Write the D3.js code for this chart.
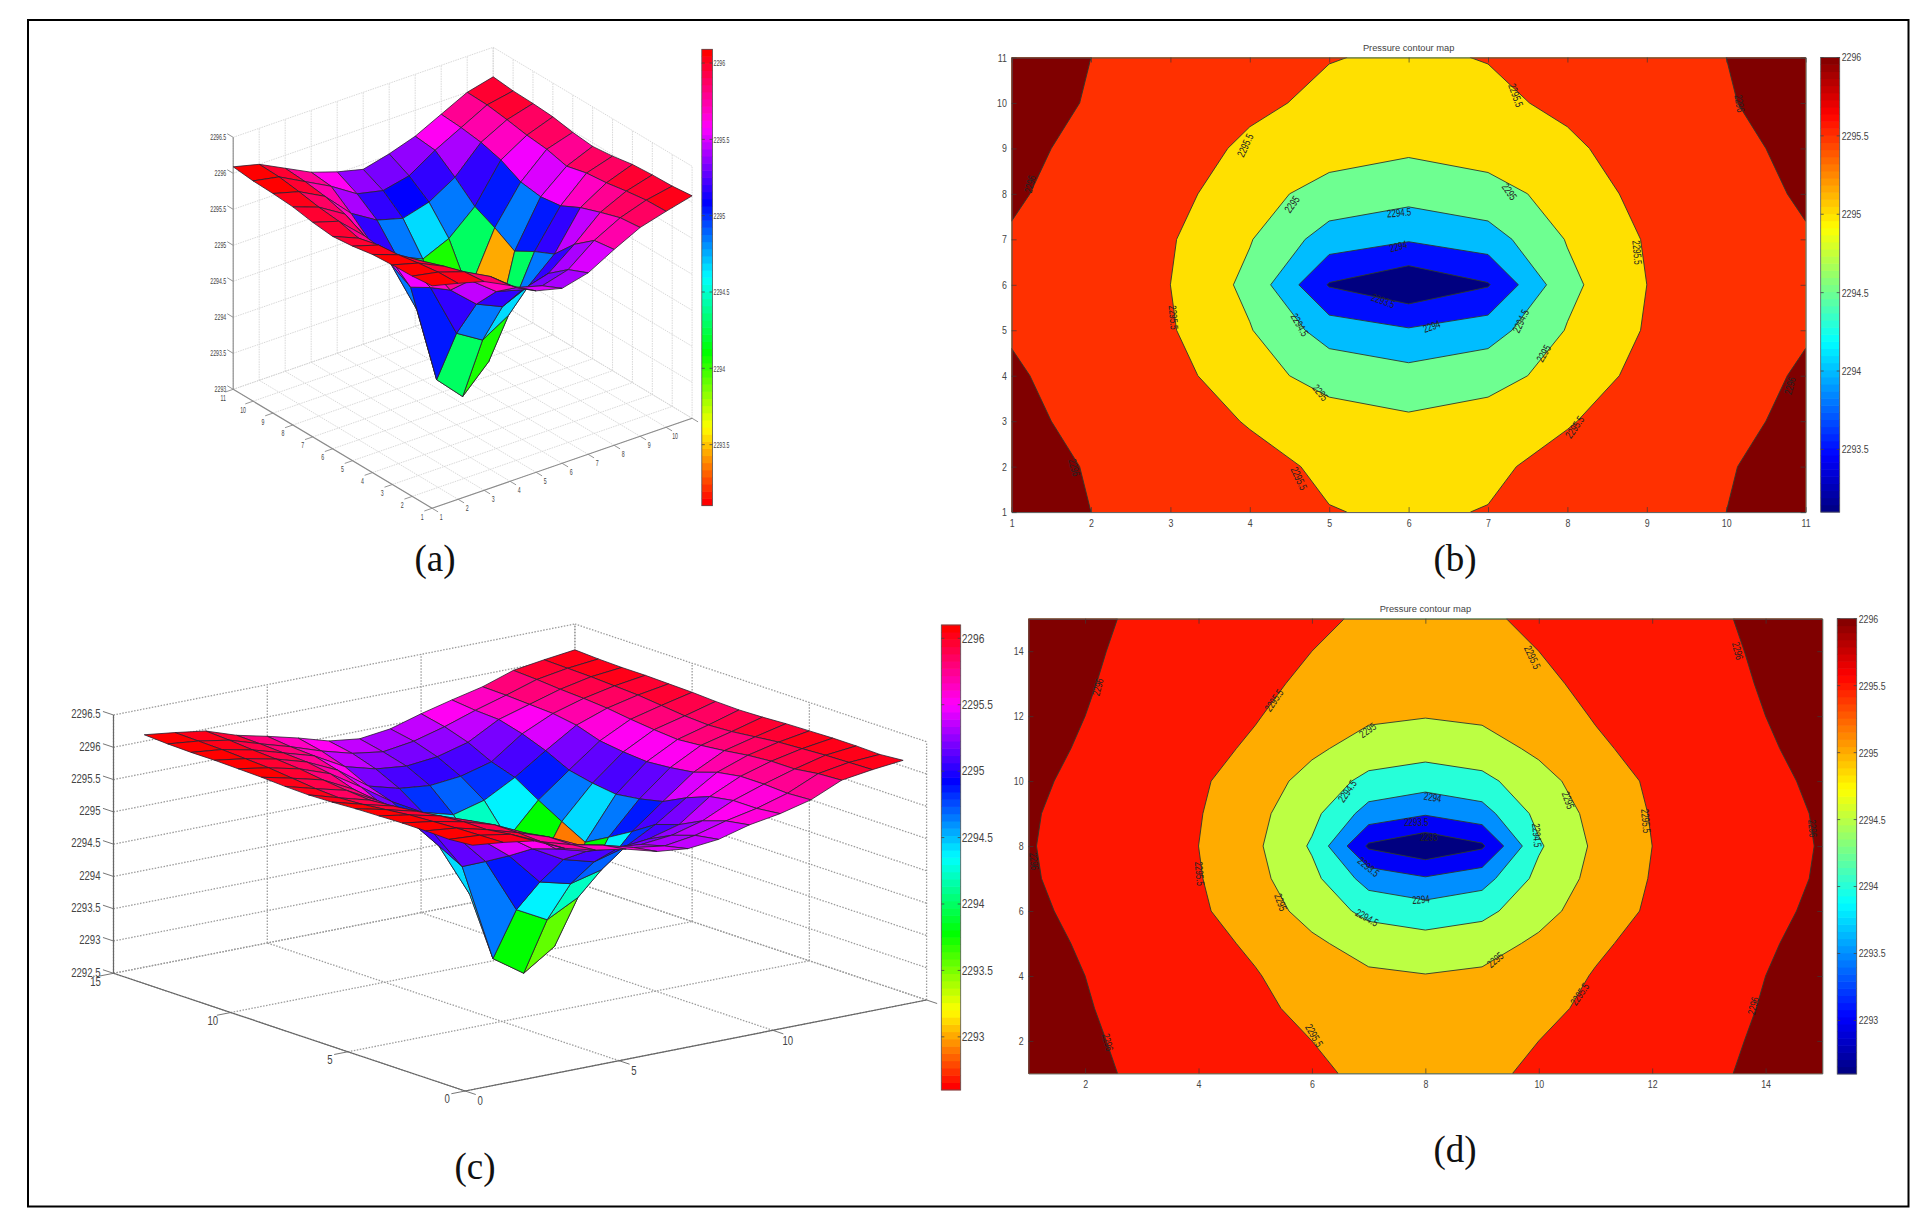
<!DOCTYPE html>
<html>
<head>
<meta charset="utf-8">
<title>Pressure surfaces and contour maps</title>
<script src="https://cdn.jsdelivr.net/npm/d3@7"></script>
<style>
  html, body { margin: 0; padding: 0; background: #fff; }
  svg { display: block; }
  text { font-family: "Liberation Sans", Arial, sans-serif; }
</style>
</head>
<body>
<svg id="figure" width="1911" height="1214"></svg>
<script>
// Pressure on the 11 x 11 grid; rows run y = 1..11, columns x = 1..11.
const pressure11 = [
  [2296.09,2296.00,2295.90,2295.72,2295.52,2295.43,2295.52,2295.72,2295.90,2296.00,2296.09],
  [2296.06,2295.99,2295.87,2295.68,2295.40,2295.30,2295.40,2295.68,2295.87,2295.99,2296.06],
  [2296.05,2295.95,2295.78,2295.46,2295.18,2295.08,2295.18,2295.46,2295.78,2295.95,2296.05],
  [2296.03,2295.90,2295.68,2295.16,2294.84,2294.68,2294.84,2295.16,2295.68,2295.90,2296.03],
  [2295.98,2295.87,2295.54,2295.03,2294.27,2294.05,2294.27,2295.03,2295.54,2295.87,2295.98],
  [2295.95,2295.80,2295.50,2294.87,2293.46,2293.10,2293.46,2294.87,2295.50,2295.80,2295.95],
  [2295.98,2295.87,2295.54,2295.03,2294.27,2294.05,2294.27,2295.03,2295.54,2295.87,2295.98],
  [2296.03,2295.90,2295.68,2295.16,2294.84,2294.68,2294.84,2295.16,2295.68,2295.90,2296.03],
  [2296.05,2295.95,2295.76,2295.40,2295.18,2295.08,2295.18,2295.40,2295.76,2295.95,2296.05],
  [2296.06,2295.99,2295.80,2295.61,2295.38,2295.30,2295.38,2295.61,2295.80,2295.99,2296.06],
  [2296.09,2296.00,2295.82,2295.64,2295.52,2295.43,2295.52,2295.64,2295.82,2296.00,2296.09]
];

// Pressure on the 15 x 15 grid; rows run y = 1..15, columns x = 1..15.
const pressure15 = [
  [2296.09,2296.04,2295.97,2295.76,2295.64,2295.56,2295.43,2295.38,2295.43,2295.56,2295.64,2295.76,2295.97,2296.04,2296.09],
  [2296.06,2296.03,2295.95,2295.74,2295.60,2295.50,2295.37,2295.30,2295.37,2295.50,2295.60,2295.74,2295.95,2296.03,2296.06],
  [2296.07,2296.02,2295.90,2295.76,2295.60,2295.38,2295.25,2295.20,2295.25,2295.38,2295.60,2295.76,2295.90,2296.02,2296.07],
  [2296.07,2296.00,2295.90,2295.76,2295.54,2295.20,2295.07,2295.02,2295.07,2295.20,2295.54,2295.76,2295.90,2296.00,2296.07],
  [2296.06,2295.98,2295.87,2295.70,2295.40,2295.08,2294.82,2294.69,2294.82,2295.08,2295.40,2295.70,2295.87,2295.98,2296.06],
  [2296.05,2295.94,2295.82,2295.58,2295.22,2294.85,2294.35,2294.23,2294.35,2294.85,2295.22,2295.58,2295.82,2295.94,2296.05],
  [2296.03,2295.90,2295.78,2295.53,2295.14,2294.64,2293.80,2293.55,2293.80,2294.64,2295.14,2295.53,2295.78,2295.90,2296.03],
  [2296.02,2295.88,2295.75,2295.50,2295.09,2294.44,2292.92,2292.60,2292.92,2294.44,2295.09,2295.50,2295.75,2295.88,2296.02],
  [2296.03,2295.90,2295.78,2295.53,2295.14,2294.64,2293.80,2293.55,2293.80,2294.64,2295.14,2295.53,2295.78,2295.90,2296.03],
  [2296.05,2295.94,2295.82,2295.58,2295.22,2294.85,2294.35,2294.23,2294.35,2294.85,2295.22,2295.58,2295.82,2295.94,2296.05],
  [2296.06,2295.98,2295.87,2295.70,2295.40,2295.08,2294.82,2294.69,2294.82,2295.08,2295.40,2295.70,2295.87,2295.98,2296.06],
  [2296.07,2296.00,2295.90,2295.76,2295.54,2295.20,2295.07,2295.02,2295.07,2295.20,2295.54,2295.76,2295.90,2296.00,2296.07],
  [2296.07,2296.02,2295.92,2295.78,2295.64,2295.38,2295.25,2295.20,2295.25,2295.38,2295.64,2295.78,2295.92,2296.02,2296.07],
  [2296.08,2296.03,2295.95,2295.80,2295.66,2295.50,2295.37,2295.30,2295.37,2295.50,2295.66,2295.80,2295.95,2296.03,2296.08],
  [2296.10,2296.04,2295.97,2295.81,2295.70,2295.58,2295.44,2295.38,2295.44,2295.58,2295.70,2295.81,2295.97,2296.04,2296.10]
];

// Filled contour levels and tick lists for each panel.
const levels11 = [2293.5, 2294, 2294.5, 2295, 2295.5, 2296];
const levels15 = [2293, 2293.5, 2294, 2294.5, 2295, 2295.5, 2296];
const zTicks11 = [2293, 2293.5, 2294, 2294.5, 2295, 2295.5, 2296, 2296.5];
const zTicks15 = [2292.5, 2293, 2293.5, 2294, 2294.5, 2295, 2295.5, 2296, 2296.5];
const barTicksA = [2293.5, 2294, 2294.5, 2295, 2295.5, 2296];
const barTicksC = [2293, 2293.5, 2294, 2294.5, 2295, 2295.5, 2296];
const barTicksB = [2293.5, 2294, 2294.5, 2295, 2295.5, 2296];
const barTicksD = [2293, 2293.5, 2294, 2294.5, 2295, 2295.5, 2296];
const axisTicks11 = d3.range(1, 12);
const axisTicks15 = [0, 5, 10, 15];
const evenTicks15 = [2, 4, 6, 8, 10, 12, 14];

// Inline contour labels: [text, x, y, angle], in grid units.
const contourLabels11 = [
  ["2295.5",7.35,10.17,70],["2296",10.17,9.99,80],["2295.5",3.94,9.07,-65],["2296",1.23,8.22,-75],
  ["2295",7.27,8.05,55],["2295",4.53,7.77,-55],["2294.5",5.88,7.59,-5],["2294",5.87,6.85,-15],
  ["2295.5",8.88,6.71,85],["2293.5",5.68,5.65,20],["2295.5",3.04,5.28,85],["2294.5",4.63,5.12,60],
  ["2294",6.29,5.09,-20],["2294.5",7.41,5.2,-65],["2295",7.7,4.49,-60],["2295",4.89,3.63,50],
  ["2296",10.8,3.78,-75],["2295.5",8.09,2.87,-55],["2296",1.79,1.98,75],["2295.5",4.62,1.74,65]
];
const contourLabels15 = [
  ["2295.5",9.89,13.81,65],["2296",13.51,14.01,75],["2296",2.22,12.9,-75],["2295.5",5.33,12.49,-55],
  ["2295",6.98,11.57,-35],["2294.5",6.62,9.69,-55],["2294",8.13,9.51,10],["2295",10.52,9.41,70],
  ["2293.5",7.84,8.75,0],["2293",8.06,8.27,0],["2295.5",11.89,8.77,85],["2296",14.83,8.54,85],
  ["2294.5",9.97,8.33,85],["2296",1.1,7.53,85],["2295.5",4.02,7.15,85],["2293.5",7,7.36,40],
  ["2295",5.45,6.27,70],["2294",7.92,6.36,-5],["2294.5",6.97,5.8,30],["2295",9.23,4.5,-40],
  ["2295.5",10.72,3.44,-55],["2296",13.78,3.08,-75],["2295.5",6.04,2.17,60],["2296",2.4,1.96,75]
];

const svg = d3.select("#figure");
const flat = rows => rows.flat();

// Colormaps with 64 discrete steps, as in the plotting package's hsv and jet tables.
const STEPS = 64;
const stepped = t => Math.min(STEPS - 1, Math.floor(Math.max(0, Math.min(1, t)) * STEPS)) / (STEPS - 1);
const hsvColor = t => d3.hsl(stepped(t) * 360, 1, 0.5).formatHex();
function jetColor(t) {
  const c = v => Math.round(255 * Math.max(0, Math.min(1, v)));
  return d3.rgb(c(1.5 - Math.abs(4 * t - 3)), c(1.5 - Math.abs(4 * t - 2)), c(1.5 - Math.abs(4 * t - 1))).formatHex();
}

// Places a horizontally condensed text; the narrow plot lettering needs a width factor.
function put(g, str, x, y, o = {}) {
  return g.append("text")
    .attr("transform", `translate(${x},${y}) rotate(${o.rot || 0}) scale(${o.sx || 1},1)`)
    .attr("text-anchor", o.anchor || "middle")
    .attr("dy", "0.36em")
    .attr("font-size", o.size || 10)
    .attr("fill", o.fill || "#444")
    .text(str);
}

function colorbar(g, box, domain, ticks, colorOf, text) {
  const y = d3.scaleLinear().domain(domain).range([box.y1, box.y0]);
  const bands = d3.range(STEPS);
  const band = d3.scaleBand().domain(bands).range([box.y1, box.y0]);
  g.selectAll(null).data(bands).join("rect")
    .attr("x", box.x0).attr("width", box.x1 - box.x0)
    .attr("y", d => band(d) - 0.3).attr("height", band.bandwidth() + 0.6)
    .attr("fill", d => colorOf((d + 0.5) / STEPS));
  g.append("rect").attr("x", box.x0).attr("y", box.y0).attr("width", box.x1 - box.x0).attr("height", box.y1 - box.y0)
    .attr("fill", "none").attr("stroke", "#555").attr("stroke-width", 0.8);
  ticks.forEach(t => {
    const py = y(t);
    [[box.x0, box.x0 + 3], [box.x1 - 3, box.x1]].forEach(([a, b]) =>
      g.append("line").attr("x1", a).attr("x2", b).attr("y1", py).attr("y2", py).attr("stroke", "#444").attr("stroke-width", 0.8));
    put(g, String(t), box.x1 + text.gap, py, { anchor: "start", size: text.size, sx: text.sx, fill: "#444" });
  });
}

// Isometric surface panel: the box is given by three floor corners and a height in pixels.
function surfacePanel(cfg) {
  const g = svg.append("g");
  const { rows, xDomain, yDomain, zDomain, front, right, left, height } = cfg;
  const n = rows.length;
  const ux = d3.scaleLinear().domain(xDomain).range([0, 1]);
  const uy = d3.scaleLinear().domain(yDomain).range([0, 1]);
  const uz = d3.scaleLinear().domain(zDomain).range([0, height]);
  const project = (x, y, z) => [
    front[0] + ux(x) * (right[0] - front[0]) + uy(y) * (left[0] - front[0]),
    front[1] + ux(x) * (right[1] - front[1]) + uy(y) * (left[1] - front[1]) - uz(z)
  ];
  const line = d3.line();
  const [x0, x1] = xDomain, [y0, y1] = yDomain, [z0, z1] = zDomain;
  const gridLine = (a, b) => g.append("path").attr("d", line([a, b])).attr("fill", "none")
    .attr("stroke", cfg.gridColor).attr("stroke-width", cfg.gridWidth).attr("stroke-dasharray", cfg.gridDash);

  // Floor and the two back walls.
  cfg.xTicks.forEach(t => {
    gridLine(project(t, y0, z0), project(t, y1, z0));
    gridLine(project(t, y1, z0), project(t, y1, z1));
  });
  cfg.yTicks.forEach(t => {
    gridLine(project(x0, t, z0), project(x1, t, z0));
    gridLine(project(x1, t, z0), project(x1, t, z1));
  });
  cfg.zTicks.forEach(t => {
    gridLine(project(x0, y1, t), project(x1, y1, t));
    gridLine(project(x1, y1, t), project(x1, y0, t));
  });

  // Axis lines, ticks and labels on the outer edges of the box.
  const axisStroke = cfg.axisColor;
  const axisLine = (a, b, w) => g.append("path").attr("d", line([a, b])).attr("fill", "none")
    .attr("stroke", axisStroke).attr("stroke-width", w);
  axisLine(project(x0, y1, z0), project(x0, y1, z1), cfg.axisWidth);
  axisLine(project(x0, y0, z0), project(x1, y0, z0), cfg.axisWidth);
  axisLine(project(x0, y0, z0), project(x0, y1, z0), cfg.axisWidth);
  const tx = (x1 - x0) * 0.03, ty = (y1 - y0) * 0.03;
  cfg.xTicks.forEach(t => {
    axisLine(project(t, y0, z0), project(t, y0 - ty, z0), 0.9);
    if (cfg.xLabels.includes(t)) {
      const p = project(t, y0, z0);
      put(g, String(t), p[0] + cfg.xOffset[0], p[1] + cfg.xOffset[1], { size: cfg.labelSize, sx: cfg.labelSx });
    }
  });
  cfg.yTicks.forEach(t => {
    axisLine(project(x0, t, z0), project(x0 - tx, t, z0), 0.9);
    const p = project(x0, t, z0);
    put(g, String(t), p[0] + cfg.yOffset[0], p[1] + cfg.yOffset[1], { size: cfg.labelSize, sx: cfg.labelSx });
  });
  cfg.zTicks.forEach(t => {
    const end = project(x0, y1 + ty, t);
    axisLine(project(x0, y1, t), end, 0.9);
    const p = project(x0, y1, t);
    put(g, String(t), p[0] + cfg.zOffset, p[1] - 1, { anchor: "end", size: cfg.labelSize, sx: cfg.labelSx });
  });

  // Surface facets, farthest first: the viewer sits on the low-x, low-y side, so
  // walking both indices downward gives correct overlap for a height field.
  const zValues = flat(rows);
  const color = d3.scaleLinear().domain(d3.extent(zValues)).range([0, 1]).clamp(true);
  const cells = [];
  for (let j = n - 2; j >= 0; j--) for (let i = n - 2; i >= 0; i--) cells.push({ i, j });
  const facet = g.append("g");
  facet.selectAll("path").data(cells).join("path")
    .attr("d", ({ i, j }) => line([
      project(i + 1, j + 1, rows[j][i]),
      project(i + 2, j + 1, rows[j][i + 1]),
      project(i + 2, j + 2, rows[j + 1][i + 1]),
      project(i + 1, j + 2, rows[j + 1][i])
    ]) + "Z")
    .attr("fill", ({ i, j }) => hsvColor(color(rows[j][i])))
    .attr("stroke", "#2a2030").attr("stroke-width", cfg.edgeWidth).attr("stroke-linejoin", "round");

  colorbar(g, cfg.bar, cfg.barDomain, cfg.barTicks,
    t => hsvColor(t), cfg.barText);
}

// Filled contour panel built from d3.contours on the pressure grid.
function contourPanel(cfg) {
  const g = svg.append("g");
  const { rows, levels, box, clipId } = cfg;
  const n = rows.length;
  const x = d3.scaleLinear().domain([1, n]).range([box.x0, box.x1]);
  const y = d3.scaleLinear().domain([1, n]).range([box.y1, box.y0]);
  const zValues = flat(rows);
  const minZ = d3.min(zValues);
  const colorT = d3.scaleLinear().domain([minZ, levels[levels.length - 1]]).range([0, 1]).clamp(true);

  g.append("clipPath").attr("id", clipId).append("rect")
    .attr("x", box.x0).attr("y", box.y0).attr("width", box.x1 - box.x0).attr("height", box.y1 - box.y0);
  const plot = g.append("g").attr("clip-path", `url(#${clipId})`);
  plot.append("rect").attr("x", box.x0).attr("y", box.y0).attr("width", box.x1 - box.x0).attr("height", box.y1 - box.y0)
    .attr("fill", jetColor(0));

  // Grid node i sits at i + 0.5 in contour coordinates.
  const toScreen = d3.geoTransform({
    point(px, py) { this.stream.point(x(px + 0.5), y(py + 0.5)); }
  });
  const path = d3.geoPath(toScreen);
  const regions = d3.contours().size([n, n]).smooth(true).thresholds(levels)(zValues);
  plot.selectAll("path").data(regions).join("path")
    .attr("d", path)
    .attr("fill", d => jetColor(colorT(d.value)))
    .attr("stroke", "#2c3a2c").attr("stroke-width", 0.9).attr("stroke-linejoin", "round");

  // Axes with inward ticks, mirrored on the far sides of the box.
  const axes = g.append("g").attr("font-family", null);
  const style = (sel, sx, tickColor) => {
    sel.select(".domain").attr("stroke", "#555").attr("stroke-width", 1);
    sel.selectAll(".tick line").attr("stroke", tickColor || "#3a3a3a").attr("stroke-width", 0.7);
    sel.selectAll("text").attr("fill", "#444").attr("font-size", 11)
      .style("font-family", '"Liberation Sans", Arial, sans-serif');
  };
  axes.append("g").attr("transform", `translate(0,${box.y1})`)
    .call(d3.axisBottom(x).tickValues(cfg.ticks).tickSizeInner(-5).tickSizeOuter(0).tickPadding(5).tickFormat(d3.format("d")))
    .call(style).selectAll("text").attr("transform", "scale(0.8,1)").attr("dy", "0.9em");
  axes.append("g").attr("transform", `translate(0,${box.y0})`)
    .call(d3.axisTop(x).tickValues(cfg.ticks).tickSizeInner(-5).tickSizeOuter(0).tickFormat(""))
    .call(style);
  axes.append("g").attr("transform", `translate(${box.x0},0)`)
    .call(d3.axisLeft(y).tickValues(cfg.ticks).tickSizeInner(-5).tickSizeOuter(0).tickPadding(6).tickFormat(d3.format("d")))
    .call(style).selectAll("text").attr("transform", "scale(0.8,1)");
  axes.append("g").attr("transform", `translate(${box.x1},0)`)
    .call(d3.axisRight(y).tickValues(cfg.ticks).tickSizeInner(-5).tickSizeOuter(0).tickFormat(""))
    .call(style);

  cfg.labels.forEach(([str, lx, ly, rot]) => {
    put(g, str, x(lx), y(ly), { rot, size: 11, sx: 0.72, fill: "#222" });
  });
  put(g, "Pressure contour map", (box.x0 + box.x1) / 2, cfg.titleY, { size: 9.5, sx: 0.98, fill: "#444" });

  colorbar(g, cfg.bar, [minZ, levels[levels.length - 1]], cfg.barTicks, jetColor, { gap: 2, size: 11, sx: 0.8 });
}

// Outer frame of the figure.
svg.append("rect").attr("x", 28).attr("y", 20).attr("width", 1880.5).attr("height", 1186.5)
  .attr("fill", "none").attr("stroke", "#000").attr("stroke-width", 2);

surfacePanel({
  rows: pressure11, xDomain: [1, 11], yDomain: [1, 11], zDomain: [2293, 2296.5],
  front: [432.1, 508.3], right: [692.1, 418.3], left: [233.2, 389.3], height: 252,
  xTicks: axisTicks11, yTicks: axisTicks11, zTicks: zTicks11, xLabels: d3.range(1, 11),
  xOffset: [9, 8], yOffset: [-10, 8], zOffset: -7,
  labelSize: 9.5, labelSx: 0.55,
  gridColor: "#d4d4d4", gridWidth: 0.9, gridDash: "1.5 1", axisColor: "#8a8a8a", axisWidth: 1.1,
  edgeWidth: 0.8,
  bar: { x0: 701.8, x1: 712.5, y0: 49.3, y1: 505.7 }, barDomain: [2293.1, 2296.09], barTicks: barTicksA,
  barText: { gap: 1, size: 9.5, sx: 0.55 }
});

surfacePanel({
  rows: pressure15, xDomain: [0, 15], yDomain: [0, 15], zDomain: [2292.5, 2296.5],
  front: [465.2, 1091], right: [926.6, 1000], left: [113.5, 973.3], height: 258.3,
  xTicks: axisTicks15, yTicks: axisTicks15, zTicks: zTicks15, xLabels: [0, 5, 10],
  xOffset: [15, 10], yOffset: [-18, 8], zOffset: -13,
  labelSize: 12, labelSx: 0.8,
  gridColor: "#9c9c9c", gridWidth: 1.3, gridDash: "1.5 1.5", axisColor: "#666", axisWidth: 1.2,
  edgeWidth: 0.8,
  bar: { x0: 941.3, x1: 960.7, y0: 625, y1: 1090 }, barDomain: [2292.6, 2296.1], barTicks: barTicksC,
  barText: { gap: 1, size: 12, sx: 0.85 }
});

contourPanel({
  rows: pressure11, levels: levels11, clipId: "clip-b", ticks: axisTicks11, labels: contourLabels11,
  box: { x0: 1011.6, x1: 1805.6, y0: 57.5, y1: 512.1 }, titleY: 48,
  bar: { x0: 1820.7, x1: 1839.7, y0: 57.5, y1: 512.1 }, barTicks: barTicksB
});

contourPanel({
  rows: pressure15, levels: levels15, clipId: "clip-d", ticks: evenTicks15, labels: contourLabels15,
  box: { x0: 1028.4, x1: 1822.3, y0: 618.7, y1: 1073.4 }, titleY: 608.4,
  bar: { x0: 1837.2, x1: 1856.7, y0: 618.7, y1: 1074 }, barTicks: barTicksD
});

// Panel captions.
[["(a)", 435, 559], ["(b)", 1455, 559], ["(c)", 475, 1167], ["(d)", 1455, 1150]].forEach(([s, cx, cy]) => {
  svg.append("text").attr("x", cx).attr("y", cy).attr("dy", "0.33em").attr("text-anchor", "middle")
    .style("font-family", '"Liberation Serif", "Times New Roman", serif').attr("font-size", 37).attr("fill", "#111").text(s);
});
</script>
</body>
</html>
